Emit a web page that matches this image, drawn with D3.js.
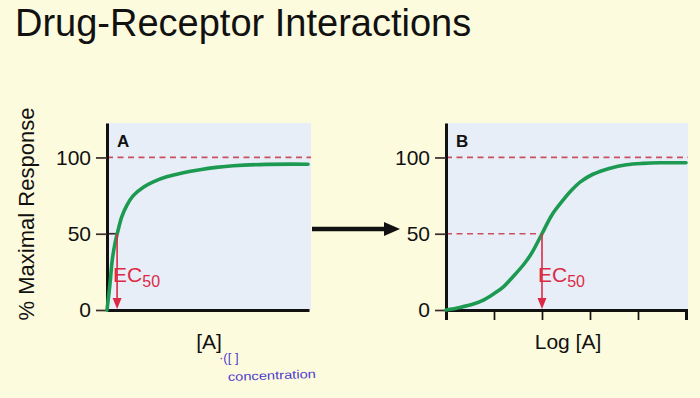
<!DOCTYPE html>
<html>
<head>
<meta charset="utf-8">
<script src="https://cdn.jsdelivr.net/npm/d3@7"></script>
<style>
  html, body { margin: 0; padding: 0; background: #fdfbdd; }
  svg { display: block; }
  text { font-family: "Liberation Sans", Arial, Helvetica, sans-serif; }
</style>
</head>
<body>
<svg id="chart" width="700" height="398"></svg>
<script>
// ---------- data ----------
const titleText = "Drug-Receptor Interactions";
const yAxisTitle = "% Maximal Response";
const yTicks = [0, 50, 100];
const yTickLabels = ["0", "50", "100"];

// Panel A: response vs concentration [A]
const concA = [0, 0.3, 0.52, 0.79, 1.02, 1.46, 1.95, 2.6, 3.6, 4.58, 5.9, 7.55, 9.2, 10.8, 12.5, 15.8, 19.9];
const respA = [0, 17.5, 32.8, 43.7, 50.2, 61, 68.5, 75, 80.5, 84, 87.3, 90, 92, 93.5, 94.6, 95.5, 95.6];
const ec50A = 1.0;

// Panel B: response vs log[A]
const logB = [0, 0.29, 0.57, 0.78, 0.99, 1.19, 1.40, 1.61, 1.78, 2.0, 2.2, 2.4, 2.6, 2.8, 3.06, 3.42, 3.76, 4.1, 4.46, 5.0];
const respB = [0, 1.7, 3.9, 6.5, 10.5, 15, 22, 29.5, 37, 50, 62, 70.5, 78, 84, 89, 93, 95.2, 96.1, 96.5, 96.5];
const ec50B = 2.0;
const xTicksB = [0, 1, 2, 3, 4, 5];

const maxLine = 100, halfLine = 50;
const panelLabels = ["A", "B"];
const xLabels = ["[A]", "Log [A]"];
const noteLines = ["·([ ]", "concentration"];

// ---------- layout ----------
const svg = d3.select("#chart");
const C = {
  bg: "#fdfbdd", plot: "#e8eef8", green: "#1c9a52", dash: "#c9505f",
  red: "#dc2a44", axis: "#111", tick: "#3a2a2a", note: "#4d3bcf"
};

svg.append("rect").attr("width", 700).attr("height", 398).attr("fill", C.bg);

svg.append("text").attr("x", 15).attr("y", 36)
  .attr("font-size", 38).attr("fill", "#111").text(titleText);

svg.append("text")
  .attr("transform", "translate(34,214) rotate(-90)")
  .attr("text-anchor", "middle").attr("font-size", 22).attr("fill", "#111")
  .text(yAxisTitle);

const y = d3.scaleLinear().domain([0, 122.6]).range([310, 123]);

const xA = d3.scaleLinear().domain([0, 20]).range([107, 309]);
const xB = d3.scaleLinear().domain([0, 5]).range([446, 686]);

const line = (xs) => d3.line().x(d => xs(d[0])).y(d => y(d[1])).curve(d3.curveCatmullRom.alpha(0.5));

function panel(xs, xd, yd, ec50, label, xLabel, isLog) {
  const g = svg.append("g");
  const [x0, x1] = xs.range();
  // plot background
  g.append("rect").attr("x", x0).attr("y", y.range()[1])
    .attr("width", x1 - x0 + 2).attr("height", y(0) - y.range()[1]).attr("fill", C.plot);

  // dashed 100 line
  g.append("line").attr("x1", x0).attr("x2", x1 + 2).attr("y1", y(maxLine)).attr("y2", y(maxLine))
    .attr("stroke", C.dash).attr("stroke-width", 1.7).attr("stroke-dasharray", "6,4.5");
  // dashed 50 line to EC50
  g.append("line").attr("x1", x0).attr("x2", xs(ec50)).attr("y1", y(halfLine)).attr("y2", y(halfLine))
    .attr("stroke", isLog ? C.dash : C.tick).attr("stroke-width", 1.7).attr("stroke-dasharray", isLog ? "6,4.5" : null);

  // y axis
  const ya = d3.axisLeft(y).tickValues(yTicks).tickFormat((d, i) => yTickLabels[i])
    .tickSize(11).tickSizeOuter(0).tickPadding(5);
  const yg = g.append("g").attr("transform", `translate(${x0},0)`).call(ya);
  yg.select(".domain").attr("stroke", C.axis).attr("stroke-width", 3);
  yg.selectAll(".tick line").attr("stroke", C.tick).attr("stroke-width", 1.7);
  yg.selectAll(".tick text").attr("font-size", 21).attr("fill", "#111")
    .attr("font-family", "Liberation Sans, Arial, sans-serif");

  // x axis
  const xa = d3.axisBottom(xs).tickFormat("").tickSizeOuter(0);
  if (isLog) xa.tickValues(xTicksB).tickSize(10); else xa.tickValues([]).tickSize(0);
  const xg = g.append("g").attr("transform", `translate(0,${y(0)})`).call(xa);
  xg.select(".domain").attr("stroke", C.axis).attr("stroke-width", 3);
  xg.selectAll(".tick line").attr("stroke", C.axis).attr("stroke-width", 1.7);

  // curve
  g.append("path").datum(xd.map((v, i) => [v, yd[i]]))
    .attr("d", line(xs)).attr("fill", "none").attr("stroke", C.green)
    .attr("stroke-width", 3.6).attr("stroke-linecap", "round");

  // EC50 arrow
  const ex = xs(ec50);
  g.append("line").attr("x1", ex).attr("x2", ex).attr("y1", y(halfLine)).attr("y2", y(0) - 8)
    .attr("stroke", C.red).attr("stroke-width", 1.6);
  g.append("path").attr("d", `M${ex - 4.5},${y(0) - 12} L${ex + 4.5},${y(0) - 12} L${ex},${y(0) - 1} Z`)
    .attr("fill", C.red);
  const t = g.append("text").attr("x", ex - 4).attr("y", 282).attr("fill", C.red).attr("font-size", 21);
  t.append("tspan").text("EC");
  t.append("tspan").attr("font-size", 16).attr("dy", 5).text("50");

  // panel label
  g.append("text").attr("x", x0 + 10).attr("y", 147).attr("font-size", 17).attr("font-weight", "bold")
    .attr("fill", "#111").text(label);
  // x label
  g.append("text").attr("x", isLog ? 568 : 209).attr("y", 349).attr("text-anchor", "middle")
    .attr("font-size", 21).attr("fill", "#111").text(xLabel);
}

panel(xA, concA, respA, ec50A, panelLabels[0], xLabels[0], false);
panel(xB, logB, respB, ec50B, panelLabels[1], xLabels[1], true);

// arrow between panels
svg.append("line").attr("x1", 312).attr("x2", 388).attr("y1", 229).attr("y2", 229)
  .attr("stroke", "#111").attr("stroke-width", 4.5);
svg.append("path").attr("d", "M384,222 L400,229 L384,236 Z").attr("fill", "#111");

// handwritten note
svg.append("text").attr("x", 219).attr("y", 362).attr("font-size", 13)
  .attr("fill", C.note).attr("font-family", "DejaVu Sans, sans-serif").text(noteLines[0]);
svg.append("text").attr("x", 228).attr("y", 381).attr("font-size", 12)
  .attr("textLength", 88).attr("lengthAdjust", "spacingAndGlyphs")
  .attr("transform", "rotate(-2,228,381)")
  .attr("fill", C.note).attr("font-family", "DejaVu Sans, sans-serif").text(noteLines[1]);
</script>
</body>
</html>
